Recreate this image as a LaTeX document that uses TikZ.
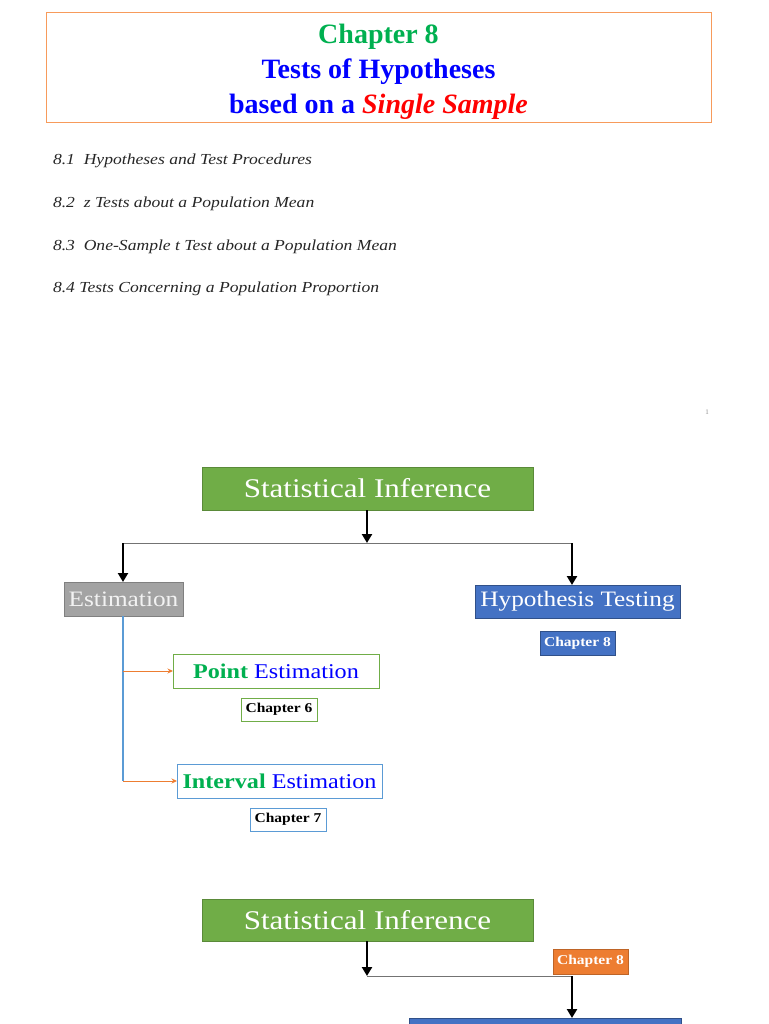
\documentclass[tikz,border=0pt]{standalone}
\usepackage{fontspec}
\setmainfont{Liberation Serif}
\newfontfamily\palfont[FakeStretch=1.15]{Liberation Serif}
\usetikzlibrary{arrows.meta}
\definecolor{ttlorange}{HTML}{F79B5B}
\definecolor{ttlgreen}{HTML}{00B050}
\definecolor{ttlblue}{HTML}{0000FF}
\definecolor{ttlred}{HTML}{FF0000}
\definecolor{infgreen}{HTML}{70AD47}
\definecolor{hypblue}{HTML}{4472C4}
\definecolor{estgray}{HTML}{A3A3A3}
\definecolor{linkblue}{HTML}{5B9BD5}
\definecolor{linkorange}{HTML}{ED7D31}
\newcommand{\fsz}[1]{\fontsize{#1}{1.2\dimexpr #1pt\relax}\selectfont}

\begin{document}
\begin{tikzpicture}[
    x=1pt, y=-1pt,
    every node/.style={inner sep=0pt, outer sep=0pt},
    solidbox/.style={
      draw, line width=0.6pt, anchor=north west, text=white,
    },
    openbox/.style={
      draw, line width=0.9pt, fill=white, anchor=north west,
    },
    itemline/.style={anchor=base west, font=\palfont\fsz{15.3}\itshape, text=black!85},
    downarrow/.style={-{Triangle[length=9pt,width=10pt]}, line width=2.4pt},
    joinline/.style={line width=0.8pt, draw=black!55},
    sidearrow/.style={-{Stealth[length=5.5pt,width=5pt]}, line width=1pt, draw=linkorange},
  ]
\useasboundingbox (0,0) rectangle (768,1024);
\clip (0,0) rectangle (768,1024);

% --- slide 1: title and contents
\node[draw=ttlorange, line width=0.8pt, anchor=north west,
      minimum width=665, minimum height=110] (title) at (46,12) {};
\node[align=center, font=\fontsize{28}{35}\selectfont\bfseries, yshift=-5pt] (ttltext) at (title.center) {%
  {\color{ttlgreen}Chapter 8}\\
  {\color{ttlblue}Tests of Hypotheses}\\
  {\color{ttlblue}based on a }{\color{ttlred}\itshape Single Sample}};

\node[itemline] (sec1) at (53,165) {8.1~~Hypotheses and Test Procedures};
\node[itemline] (sec2) at (53,208) {8.2~~z Tests about a Population Mean};
\node[itemline] (sec3) at (53,250) {8.3~~One-Sample t Test about a Population Mean};
\node[itemline] (sec4) at (53,292) {8.4 Tests Concerning a Population Proportion};

\node[text=black!45, font=\fsz{7}] (pgno) at (707,412) {1};

% --- slide 2: inference tree
\node[solidbox, fill=infgreen, draw=infgreen!80!black, minimum width=331,
      minimum height=43, font=\palfont\fsz{27}] (infA) at (202,467) {Statistical Inference};

\node[solidbox, fill=estgray, draw=black!50, text=black!5, minimum width=119,
      minimum height=34, font=\palfont\fsz{22}] (est) at (64,582) {Estimation};

\node[solidbox, fill=hypblue, draw=hypblue!70!black, minimum width=205,
      minimum height=33, font=\palfont\fsz{22}] (hyp) at (475,585) {Hypothesis Testing};

\node[solidbox, fill=hypblue, draw=hypblue!70!black, minimum width=75,
      minimum height=24, font=\palfont\fsz{13.5}\bfseries] (chE) at (540,631) {Chapter 8};

\node[openbox, draw=infgreen, minimum width=206, minimum height=34,
      font=\palfont\fsz{21}] (pnt) at (173,654) {{\color{ttlgreen}\bfseries Point} {\color{ttlblue}Estimation}};

\node[openbox, draw=infgreen, minimum width=76, minimum height=23,
      font=\palfont\fsz{13.5}\bfseries] (chS) at (241,698) {Chapter 6};

\node[openbox, draw=linkblue, minimum width=205, minimum height=34,
      font=\palfont\fsz{21}] (intv) at (177,764) {{\color{ttlgreen}\bfseries Interval} {\color{ttlblue}Estimation}};

\node[openbox, draw=linkblue, minimum width=76, minimum height=23,
      font=\palfont\fsz{13.5}\bfseries] (chV) at (250,808) {Chapter 7};

\coordinate (jA) at (367,543);
\coordinate (jL) at (123,543);
\coordinate (jR) at (572,543);

\draw[downarrow] (infA.south -| jA) -- (jA);
\draw[joinline] (jL) -- (jR);
\draw[downarrow] (jL) -- (jL |- est.north);
\draw[downarrow] (jR) -- (jR |- hyp.north);

\draw[line width=1.1pt, draw=linkblue] (jL |- est.south) -- (jL |- intv.west);
\draw[sidearrow] (jL |- pnt.west) -- (pnt.west);
\draw[sidearrow] (jL |- intv.west) -- (intv.west);

% --- slide 3: inference tree, testing branch
\node[solidbox, fill=infgreen, draw=infgreen!80!black, minimum width=331,
      minimum height=42, font=\palfont\fsz{27}] (infB) at (202,899) {Statistical Inference};

\node[solidbox, fill=linkorange, draw=linkorange!80!black, minimum width=75,
      minimum height=25, font=\palfont\fsz{13.5}\bfseries] (chF) at (553,949) {Chapter 8};

\node[solidbox, fill=hypblue, draw=hypblue!70!black, minimum width=272,
      minimum height=40] (hypB) at (409,1018) {};

\coordinate (kA) at (367,976);
\coordinate (kR) at (572,976);

\draw[downarrow] (infB.south -| kA) -- (kA);
\draw[joinline] (kA) -- (kR);
\draw[downarrow] (kR) -- (kR |- hypB.north);
\end{tikzpicture}
\end{document}
